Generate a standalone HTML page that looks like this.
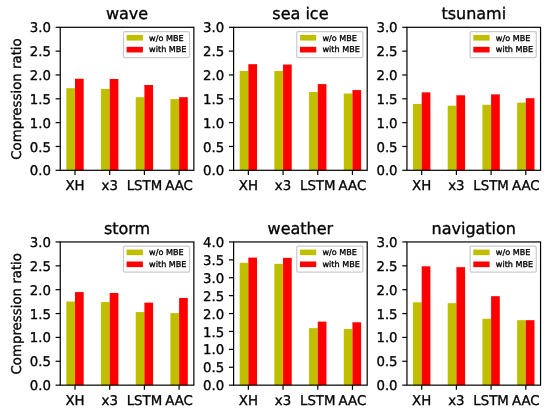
<!DOCTYPE html>
<html><head><meta charset="utf-8"><title>Compression ratio</title>
<style>
html,body{margin:0;padding:0;background:#fff;}
svg{display:block;}
text{font-family:"DejaVu Sans","Liberation Sans",sans-serif;fill:#000;text-rendering:geometricPrecision;stroke:#000;stroke-width:0.32px;}
.t{font-size:13.33px;}
.ti{font-size:16px;}
.lg{font-size:8.1px;}
.tk{stroke:#000;stroke-width:1.2;}
.sp{stroke:#000;stroke-width:1.2;}
</style></head><body>
<svg width="550" height="415" viewBox="0 0 550 415">
<rect width="550" height="415" fill="#fff"/>
<g>
<rect x="66.32" y="88.2" width="8.68" height="82.1" fill="#bfbf00"/>
<rect x="75" y="78.75" width="8.68" height="91.55" fill="#ff0000"/>
<rect x="101.02" y="88.9" width="8.68" height="81.4" fill="#bfbf00"/>
<rect x="109.7" y="79" width="8.68" height="91.3" fill="#ff0000"/>
<rect x="135.73" y="97.2" width="8.68" height="73.1" fill="#bfbf00"/>
<rect x="144.4" y="85" width="8.68" height="85.3" fill="#ff0000"/>
<rect x="170.43" y="99.1" width="8.68" height="71.2" fill="#bfbf00"/>
<rect x="179.1" y="97.2" width="8.68" height="73.1" fill="#ff0000"/>
<line x1="75" y1="170.3" x2="75" y2="174.97" class="tk"/>
<text x="75" y="190.37" class="t" text-anchor="middle">XH</text>
<line x1="109.7" y1="170.3" x2="109.7" y2="174.97" class="tk"/>
<text x="109.7" y="190.37" class="t" text-anchor="middle">x3</text>
<line x1="144.4" y1="170.3" x2="144.4" y2="174.97" class="tk"/>
<text x="144.4" y="190.37" class="t" text-anchor="middle">LSTM</text>
<line x1="179.1" y1="170.3" x2="179.1" y2="174.97" class="tk"/>
<text x="179.1" y="190.37" class="t" text-anchor="middle">AAC</text>
<line x1="55.58" y1="170.3" x2="60.25" y2="170.3" class="tk"/>
<text x="50.92" y="175.37" class="t" text-anchor="end">0.0</text>
<line x1="55.58" y1="146.47" x2="60.25" y2="146.47" class="tk"/>
<text x="50.92" y="151.53" class="t" text-anchor="end">0.5</text>
<line x1="55.58" y1="122.63" x2="60.25" y2="122.63" class="tk"/>
<text x="50.92" y="127.7" class="t" text-anchor="end">1.0</text>
<line x1="55.58" y1="98.8" x2="60.25" y2="98.8" class="tk"/>
<text x="50.92" y="103.87" class="t" text-anchor="end">1.5</text>
<line x1="55.58" y1="74.97" x2="60.25" y2="74.97" class="tk"/>
<text x="50.92" y="80.03" class="t" text-anchor="end">2.0</text>
<line x1="55.58" y1="51.13" x2="60.25" y2="51.13" class="tk"/>
<text x="50.92" y="56.2" class="t" text-anchor="end">2.5</text>
<line x1="55.58" y1="27.3" x2="60.25" y2="27.3" class="tk"/>
<text x="50.92" y="32.37" class="t" text-anchor="end">3.0</text>
<rect x="60.25" y="27.3" width="133.6" height="143" fill="none" class="sp"/>
<text x="127.05" y="19.3" class="ti" text-anchor="middle">wave</text>
<rect x="123.45" y="31.5" width="66.1" height="26" rx="1.6" ry="1.6" fill="#fff" fill-opacity="0.8" stroke="#cbcbcb" stroke-width="1.25"/>
<rect x="126.6" y="34.95" width="16.3" height="5.6" fill="#bfbf00"/>
<text x="149.1" y="40.55" class="lg">w/o MBE</text>
<rect x="126.6" y="46.85" width="16.3" height="5.6" fill="#ff0000"/>
<text x="149.1" y="52.45" class="lg">with MBE</text>
<text transform="translate(20.65 99) rotate(-90)" class="t" text-anchor="middle">Compression ratio</text>
</g>
<g>
<rect x="239.67" y="71" width="8.68" height="99.3" fill="#bfbf00"/>
<rect x="248.35" y="64.2" width="8.68" height="106.1" fill="#ff0000"/>
<rect x="274.37" y="71" width="8.68" height="99.3" fill="#bfbf00"/>
<rect x="283.05" y="64.55" width="8.68" height="105.75" fill="#ff0000"/>
<rect x="309.08" y="92" width="8.68" height="78.3" fill="#bfbf00"/>
<rect x="317.75" y="84.1" width="8.68" height="86.2" fill="#ff0000"/>
<rect x="343.78" y="93.5" width="8.68" height="76.8" fill="#bfbf00"/>
<rect x="352.45" y="90.07" width="8.68" height="80.23" fill="#ff0000"/>
<line x1="248.35" y1="170.3" x2="248.35" y2="174.97" class="tk"/>
<text x="248.35" y="190.37" class="t" text-anchor="middle">XH</text>
<line x1="283.05" y1="170.3" x2="283.05" y2="174.97" class="tk"/>
<text x="283.05" y="190.37" class="t" text-anchor="middle">x3</text>
<line x1="317.75" y1="170.3" x2="317.75" y2="174.97" class="tk"/>
<text x="317.75" y="190.37" class="t" text-anchor="middle">LSTM</text>
<line x1="352.45" y1="170.3" x2="352.45" y2="174.97" class="tk"/>
<text x="352.45" y="190.37" class="t" text-anchor="middle">AAC</text>
<line x1="228.93" y1="170.3" x2="233.6" y2="170.3" class="tk"/>
<text x="224.27" y="175.37" class="t" text-anchor="end">0.0</text>
<line x1="228.93" y1="146.47" x2="233.6" y2="146.47" class="tk"/>
<text x="224.27" y="151.53" class="t" text-anchor="end">0.5</text>
<line x1="228.93" y1="122.63" x2="233.6" y2="122.63" class="tk"/>
<text x="224.27" y="127.7" class="t" text-anchor="end">1.0</text>
<line x1="228.93" y1="98.8" x2="233.6" y2="98.8" class="tk"/>
<text x="224.27" y="103.87" class="t" text-anchor="end">1.5</text>
<line x1="228.93" y1="74.97" x2="233.6" y2="74.97" class="tk"/>
<text x="224.27" y="80.03" class="t" text-anchor="end">2.0</text>
<line x1="228.93" y1="51.13" x2="233.6" y2="51.13" class="tk"/>
<text x="224.27" y="56.2" class="t" text-anchor="end">2.5</text>
<line x1="228.93" y1="27.3" x2="233.6" y2="27.3" class="tk"/>
<text x="224.27" y="32.37" class="t" text-anchor="end">3.0</text>
<rect x="233.6" y="27.3" width="133.6" height="143" fill="none" class="sp"/>
<text x="300.4" y="19.3" class="ti" text-anchor="middle">sea ice</text>
<rect x="296.8" y="31.5" width="66.1" height="26" rx="1.6" ry="1.6" fill="#fff" fill-opacity="0.8" stroke="#cbcbcb" stroke-width="1.25"/>
<rect x="299.95" y="34.95" width="16.3" height="5.6" fill="#bfbf00"/>
<text x="322.45" y="40.55" class="lg">w/o MBE</text>
<rect x="299.95" y="46.85" width="16.3" height="5.6" fill="#ff0000"/>
<text x="322.45" y="52.45" class="lg">with MBE</text>
</g>
<g>
<rect x="413.02" y="103.93" width="8.68" height="66.37" fill="#bfbf00"/>
<rect x="421.7" y="92.35" width="8.68" height="77.95" fill="#ff0000"/>
<rect x="447.72" y="105.7" width="8.68" height="64.6" fill="#bfbf00"/>
<rect x="456.4" y="95.27" width="8.68" height="75.03" fill="#ff0000"/>
<rect x="482.43" y="104.8" width="8.68" height="65.5" fill="#bfbf00"/>
<rect x="491.1" y="94.38" width="8.68" height="75.92" fill="#ff0000"/>
<rect x="517.13" y="102.65" width="8.68" height="67.65" fill="#bfbf00"/>
<rect x="525.8" y="98.2" width="8.68" height="72.1" fill="#ff0000"/>
<line x1="421.7" y1="170.3" x2="421.7" y2="174.97" class="tk"/>
<text x="421.7" y="190.37" class="t" text-anchor="middle">XH</text>
<line x1="456.4" y1="170.3" x2="456.4" y2="174.97" class="tk"/>
<text x="456.4" y="190.37" class="t" text-anchor="middle">x3</text>
<line x1="491.1" y1="170.3" x2="491.1" y2="174.97" class="tk"/>
<text x="491.1" y="190.37" class="t" text-anchor="middle">LSTM</text>
<line x1="525.8" y1="170.3" x2="525.8" y2="174.97" class="tk"/>
<text x="525.8" y="190.37" class="t" text-anchor="middle">AAC</text>
<line x1="402.28" y1="170.3" x2="406.95" y2="170.3" class="tk"/>
<text x="397.62" y="175.37" class="t" text-anchor="end">0.0</text>
<line x1="402.28" y1="146.47" x2="406.95" y2="146.47" class="tk"/>
<text x="397.62" y="151.53" class="t" text-anchor="end">0.5</text>
<line x1="402.28" y1="122.63" x2="406.95" y2="122.63" class="tk"/>
<text x="397.62" y="127.7" class="t" text-anchor="end">1.0</text>
<line x1="402.28" y1="98.8" x2="406.95" y2="98.8" class="tk"/>
<text x="397.62" y="103.87" class="t" text-anchor="end">1.5</text>
<line x1="402.28" y1="74.97" x2="406.95" y2="74.97" class="tk"/>
<text x="397.62" y="80.03" class="t" text-anchor="end">2.0</text>
<line x1="402.28" y1="51.13" x2="406.95" y2="51.13" class="tk"/>
<text x="397.62" y="56.2" class="t" text-anchor="end">2.5</text>
<line x1="402.28" y1="27.3" x2="406.95" y2="27.3" class="tk"/>
<text x="397.62" y="32.37" class="t" text-anchor="end">3.0</text>
<rect x="406.95" y="27.3" width="133.6" height="143" fill="none" class="sp"/>
<text x="473.75" y="19.3" class="ti" text-anchor="middle">tsunami</text>
<rect x="470.15" y="31.5" width="66.1" height="26" rx="1.6" ry="1.6" fill="#fff" fill-opacity="0.8" stroke="#cbcbcb" stroke-width="1.25"/>
<rect x="473.3" y="34.95" width="16.3" height="5.6" fill="#bfbf00"/>
<text x="495.8" y="40.55" class="lg">w/o MBE</text>
<rect x="473.3" y="46.85" width="16.3" height="5.6" fill="#ff0000"/>
<text x="495.8" y="52.45" class="lg">with MBE</text>
</g>
<g>
<rect x="66.32" y="301.5" width="8.68" height="83.65" fill="#bfbf00"/>
<rect x="75" y="292.09" width="8.68" height="93.06" fill="#ff0000"/>
<rect x="101.02" y="302" width="8.68" height="83.15" fill="#bfbf00"/>
<rect x="109.7" y="292.98" width="8.68" height="92.17" fill="#ff0000"/>
<rect x="135.73" y="312.07" width="8.68" height="73.08" fill="#bfbf00"/>
<rect x="144.4" y="302.65" width="8.68" height="82.5" fill="#ff0000"/>
<rect x="170.43" y="313.09" width="8.68" height="72.06" fill="#bfbf00"/>
<rect x="179.1" y="297.95" width="8.68" height="87.2" fill="#ff0000"/>
<line x1="75" y1="385.15" x2="75" y2="389.82" class="tk"/>
<text x="75" y="405.22" class="t" text-anchor="middle">XH</text>
<line x1="109.7" y1="385.15" x2="109.7" y2="389.82" class="tk"/>
<text x="109.7" y="405.22" class="t" text-anchor="middle">x3</text>
<line x1="144.4" y1="385.15" x2="144.4" y2="389.82" class="tk"/>
<text x="144.4" y="405.22" class="t" text-anchor="middle">LSTM</text>
<line x1="179.1" y1="385.15" x2="179.1" y2="389.82" class="tk"/>
<text x="179.1" y="405.22" class="t" text-anchor="middle">AAC</text>
<line x1="55.58" y1="385.15" x2="60.25" y2="385.15" class="tk"/>
<text x="50.92" y="390.22" class="t" text-anchor="end">0.0</text>
<line x1="55.58" y1="361.28" x2="60.25" y2="361.28" class="tk"/>
<text x="50.92" y="366.35" class="t" text-anchor="end">0.5</text>
<line x1="55.58" y1="337.42" x2="60.25" y2="337.42" class="tk"/>
<text x="50.92" y="342.48" class="t" text-anchor="end">1.0</text>
<line x1="55.58" y1="313.55" x2="60.25" y2="313.55" class="tk"/>
<text x="50.92" y="318.62" class="t" text-anchor="end">1.5</text>
<line x1="55.58" y1="289.68" x2="60.25" y2="289.68" class="tk"/>
<text x="50.92" y="294.75" class="t" text-anchor="end">2.0</text>
<line x1="55.58" y1="265.82" x2="60.25" y2="265.82" class="tk"/>
<text x="50.92" y="270.88" class="t" text-anchor="end">2.5</text>
<line x1="55.58" y1="241.95" x2="60.25" y2="241.95" class="tk"/>
<text x="50.92" y="247.02" class="t" text-anchor="end">3.0</text>
<rect x="60.25" y="241.95" width="133.6" height="143.2" fill="none" class="sp"/>
<text x="127.05" y="233.95" class="ti" text-anchor="middle">storm</text>
<rect x="123.45" y="246.15" width="66.1" height="26" rx="1.6" ry="1.6" fill="#fff" fill-opacity="0.8" stroke="#cbcbcb" stroke-width="1.25"/>
<rect x="126.6" y="249.6" width="16.3" height="5.6" fill="#bfbf00"/>
<text x="149.1" y="255.2" class="lg">w/o MBE</text>
<rect x="126.6" y="261.5" width="16.3" height="5.6" fill="#ff0000"/>
<text x="149.1" y="267.1" class="lg">with MBE</text>
<text transform="translate(20.65 313.75) rotate(-90)" class="t" text-anchor="middle">Compression ratio</text>
</g>
<g>
<rect x="239.67" y="262.82" width="8.68" height="122.33" fill="#bfbf00"/>
<rect x="248.35" y="257.6" width="8.68" height="127.55" fill="#ff0000"/>
<rect x="274.37" y="263.84" width="8.68" height="121.31" fill="#bfbf00"/>
<rect x="283.05" y="257.85" width="8.68" height="127.3" fill="#ff0000"/>
<rect x="309.08" y="328.13" width="8.68" height="57.02" fill="#bfbf00"/>
<rect x="317.75" y="321.64" width="8.68" height="63.51" fill="#ff0000"/>
<rect x="343.78" y="329.02" width="8.68" height="56.13" fill="#bfbf00"/>
<rect x="352.45" y="322.27" width="8.68" height="62.88" fill="#ff0000"/>
<line x1="248.35" y1="385.15" x2="248.35" y2="389.82" class="tk"/>
<text x="248.35" y="405.22" class="t" text-anchor="middle">XH</text>
<line x1="283.05" y1="385.15" x2="283.05" y2="389.82" class="tk"/>
<text x="283.05" y="405.22" class="t" text-anchor="middle">x3</text>
<line x1="317.75" y1="385.15" x2="317.75" y2="389.82" class="tk"/>
<text x="317.75" y="405.22" class="t" text-anchor="middle">LSTM</text>
<line x1="352.45" y1="385.15" x2="352.45" y2="389.82" class="tk"/>
<text x="352.45" y="405.22" class="t" text-anchor="middle">AAC</text>
<line x1="228.93" y1="385.15" x2="233.6" y2="385.15" class="tk"/>
<text x="224.27" y="390.22" class="t" text-anchor="end">0.0</text>
<line x1="228.93" y1="367.25" x2="233.6" y2="367.25" class="tk"/>
<text x="224.27" y="372.32" class="t" text-anchor="end">0.5</text>
<line x1="228.93" y1="349.35" x2="233.6" y2="349.35" class="tk"/>
<text x="224.27" y="354.42" class="t" text-anchor="end">1.0</text>
<line x1="228.93" y1="331.45" x2="233.6" y2="331.45" class="tk"/>
<text x="224.27" y="336.52" class="t" text-anchor="end">1.5</text>
<line x1="228.93" y1="313.55" x2="233.6" y2="313.55" class="tk"/>
<text x="224.27" y="318.62" class="t" text-anchor="end">2.0</text>
<line x1="228.93" y1="295.65" x2="233.6" y2="295.65" class="tk"/>
<text x="224.27" y="300.72" class="t" text-anchor="end">2.5</text>
<line x1="228.93" y1="277.75" x2="233.6" y2="277.75" class="tk"/>
<text x="224.27" y="282.82" class="t" text-anchor="end">3.0</text>
<line x1="228.93" y1="259.85" x2="233.6" y2="259.85" class="tk"/>
<text x="224.27" y="264.92" class="t" text-anchor="end">3.5</text>
<line x1="228.93" y1="241.95" x2="233.6" y2="241.95" class="tk"/>
<text x="224.27" y="247.02" class="t" text-anchor="end">4.0</text>
<rect x="233.6" y="241.95" width="133.6" height="143.2" fill="none" class="sp"/>
<text x="300.4" y="233.95" class="ti" text-anchor="middle">weather</text>
<rect x="296.8" y="246.15" width="66.1" height="26" rx="1.6" ry="1.6" fill="#fff" fill-opacity="0.8" stroke="#cbcbcb" stroke-width="1.25"/>
<rect x="299.95" y="249.6" width="16.3" height="5.6" fill="#bfbf00"/>
<text x="322.45" y="255.2" class="lg">w/o MBE</text>
<rect x="299.95" y="261.5" width="16.3" height="5.6" fill="#ff0000"/>
<text x="322.45" y="267.1" class="lg">with MBE</text>
</g>
<g>
<rect x="413.02" y="302.3" width="8.68" height="82.85" fill="#bfbf00"/>
<rect x="421.7" y="266.3" width="8.68" height="118.85" fill="#ff0000"/>
<rect x="447.72" y="303.16" width="8.68" height="81.99" fill="#bfbf00"/>
<rect x="456.4" y="267.15" width="8.68" height="118" fill="#ff0000"/>
<rect x="482.43" y="318.76" width="8.68" height="66.39" fill="#bfbf00"/>
<rect x="491.1" y="296.2" width="8.68" height="88.95" fill="#ff0000"/>
<rect x="517.13" y="320.2" width="8.68" height="64.95" fill="#bfbf00"/>
<rect x="525.8" y="320.2" width="8.68" height="64.95" fill="#ff0000"/>
<line x1="421.7" y1="385.15" x2="421.7" y2="389.82" class="tk"/>
<text x="421.7" y="405.22" class="t" text-anchor="middle">XH</text>
<line x1="456.4" y1="385.15" x2="456.4" y2="389.82" class="tk"/>
<text x="456.4" y="405.22" class="t" text-anchor="middle">x3</text>
<line x1="491.1" y1="385.15" x2="491.1" y2="389.82" class="tk"/>
<text x="491.1" y="405.22" class="t" text-anchor="middle">LSTM</text>
<line x1="525.8" y1="385.15" x2="525.8" y2="389.82" class="tk"/>
<text x="525.8" y="405.22" class="t" text-anchor="middle">AAC</text>
<line x1="402.28" y1="385.15" x2="406.95" y2="385.15" class="tk"/>
<text x="397.62" y="390.22" class="t" text-anchor="end">0.0</text>
<line x1="402.28" y1="361.28" x2="406.95" y2="361.28" class="tk"/>
<text x="397.62" y="366.35" class="t" text-anchor="end">0.5</text>
<line x1="402.28" y1="337.42" x2="406.95" y2="337.42" class="tk"/>
<text x="397.62" y="342.48" class="t" text-anchor="end">1.0</text>
<line x1="402.28" y1="313.55" x2="406.95" y2="313.55" class="tk"/>
<text x="397.62" y="318.62" class="t" text-anchor="end">1.5</text>
<line x1="402.28" y1="289.68" x2="406.95" y2="289.68" class="tk"/>
<text x="397.62" y="294.75" class="t" text-anchor="end">2.0</text>
<line x1="402.28" y1="265.82" x2="406.95" y2="265.82" class="tk"/>
<text x="397.62" y="270.88" class="t" text-anchor="end">2.5</text>
<line x1="402.28" y1="241.95" x2="406.95" y2="241.95" class="tk"/>
<text x="397.62" y="247.02" class="t" text-anchor="end">3.0</text>
<rect x="406.95" y="241.95" width="133.6" height="143.2" fill="none" class="sp"/>
<text x="473.75" y="233.95" class="ti" text-anchor="middle">navigation</text>
<rect x="470.15" y="246.15" width="66.1" height="26" rx="1.6" ry="1.6" fill="#fff" fill-opacity="0.8" stroke="#cbcbcb" stroke-width="1.25"/>
<rect x="473.3" y="249.6" width="16.3" height="5.6" fill="#bfbf00"/>
<text x="495.8" y="255.2" class="lg">w/o MBE</text>
<rect x="473.3" y="261.5" width="16.3" height="5.6" fill="#ff0000"/>
<text x="495.8" y="267.1" class="lg">with MBE</text>
</g>
</svg>
</body></html>
